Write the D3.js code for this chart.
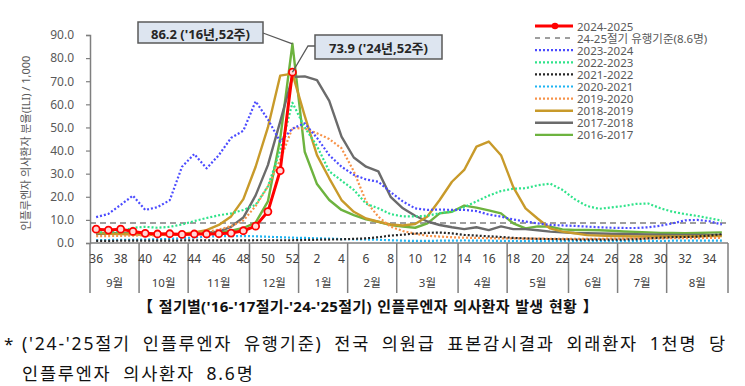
<!DOCTYPE html>
<html>
<head>
<meta charset="utf-8">
<script src="https://cdn.jsdelivr.net/npm/d3@7"></script>
<style>
  body { margin: 0; background: #fff; }
  svg text { font-family: 'Noto Sans', 'Noto Sans CJK KR', sans-serif; }
</style>
</head>
<body>
<div id="chart"></div>
<script>
// weeks run from week 36 to week 35 of the next year
var weeks = [36,37,38,39,40,41,42,43,44,45,46,47,48,49,50,51,52,
             1,2,3,4,5,6,7,8,9,10,11,12,13,14,15,16,17,18,19,20,21,22,23,24,25,26,27,28,29,30,31,32,33,34,35];
var weekTicks = [36,38,40,42,44,46,48,50,52,2,4,6,8,10,12,14,16,18,20,22,24,26,28,30,32,34];
var monthNames = ['9월','10월','11월','12월','1월','2월','3월','4월','5월','6월','7월','8월'];
var monthWeeks = [4,4,5,4,4,4,5,4,5,4,4,5];
var yTicks = [0,10,20,30,40,50,60,70,80,90];
var threshold = 8.6;

var s2425 = [6.0,5.6,6.0,5.0,4.2,3.9,4.0,3.7,3.9,3.9,4.0,4.3,5.3,7.3,13.6,31.3,73.9];
var s2324 = [11.2,12.6,16.5,20.5,14.3,15.5,18.5,33.0,38.5,32.3,38.0,45.5,48.6,61.3,53.5,43.8,49.5,
             51.8,45.5,38.0,33.0,29.5,27.5,26.5,22.0,18.0,15.0,14.3,14.5,14.3,14.3,13.8,12.3,11.4,10.2,9.3,8.5,7.8,7.6,7.4,7.1,6.8,6.6,6.5,6.5,6.8,7.5,8.5,9.8,10.0,9.4,8.0];
var s2223 = [4.5,4.8,5.0,6.6,7.0,6.6,7.0,8.0,9.5,10.8,12.0,12.8,14.3,16.5,24.5,40.0,60.7,
             50.0,42.0,31.0,27.0,23.0,17.0,15.0,12.5,11.5,11.5,11.8,12.9,13.6,15.5,18.0,20.5,22.5,23.5,23.7,25.0,25.7,23.0,19.0,16.0,14.8,15.4,16.0,16.9,17.1,15.0,13.5,12.5,11.7,10.7,9.7];
var s2122 = [0.9,0.9,1.0,1.0,1.0,1.0,1.0,1.1,1.1,1.1,1.1,1.1,1.1,1.2,1.2,1.2,1.2,
             1.3,1.4,1.5,1.6,1.8,2.0,2.5,3.2,3.6,4.1,4.4,4.5,4.2,3.5,3.2,2.9,2.6,2.2,2.0,1.8,1.7,1.6,1.5,1.5,1.5,1.5,1.5,1.6,2.0,2.3,2.5,2.6,2.8,3.2,3.8];
var s2021 = [1.3,1.3,1.4,1.4,1.5,1.6,1.8,2.0,2.4,2.7,3.0,3.0,3.0,2.9,2.7,2.5,2.3,
             2.2,2.0,1.9,1.7,1.6,1.5,1.4,1.2,1.0,0.9,0.9,1.0,1.0,1.1,1.0,1.0,0.9,0.9,0.8,0.8,0.8,0.8,0.8,0.8,0.8,0.8,0.8,0.8,0.9,0.9,1.0,1.0,1.0,1.0,1.0];
var s1920 = [3.0,3.0,3.1,3.2,3.3,3.3,3.5,3.7,4.0,4.8,5.8,7.3,9.7,16.0,24.5,36.0,49.8,
             49.5,47.5,45.0,41.0,31.0,18.0,11.4,7.1,5.2,4.0,3.1,2.8,2.5,2.3,2.2,2.1,2.0,2.0,1.9,1.9,1.8,1.8,1.8,1.8,1.8,1.9,1.9,2.0,2.0,2.0,2.1,2.1,2.1,2.2,2.2];
var s1819 = [4.3,4.0,3.9,3.8,3.6,3.5,3.6,4.0,4.6,5.6,7.8,11.5,19.0,33.0,50.0,72.4,73.3,
             55.0,38.0,28.0,18.6,13.5,10.6,9.2,8.0,7.6,8.2,11.5,18.6,26.5,31.6,41.7,43.9,38.0,24.2,15.0,10.5,6.3,4.9,4.2,3.4,3.2,3.0,2.9,2.8,2.8,2.8,2.8,2.8,2.9,3.0,3.0];
var s1718 = [4.0,4.0,4.0,3.9,3.8,3.7,3.7,3.8,4.0,4.3,5.0,7.0,11.0,20.6,33.7,52.5,71.8,
             72.1,70.5,61.5,46.0,37.0,33.0,31.0,20.0,15.0,11.8,9.3,7.8,6.8,6.0,6.8,5.6,7.2,6.0,6.0,5.5,4.9,4.6,4.3,4.2,4.1,4.0,3.9,3.8,3.7,3.6,3.5,3.5,3.5,3.5,3.5];
var s1617 = [4.3,4.2,4.2,4.1,4.0,3.9,3.8,3.8,3.9,4.2,4.6,5.3,6.5,8.8,18.0,45.0,86.2,
             39.5,25.5,18.6,14.3,12.1,10.2,9.2,7.8,7.1,6.6,8.5,12.8,13.5,16.2,15.3,14.1,12.8,8.5,6.3,7.2,7.1,5.9,5.6,5.6,5.5,5.3,5.0,4.8,4.6,4.4,4.3,4.2,4.3,4.5,4.6];

var seriesNames = ['2024-2025','24-25절기 유행기준(8.6명)','2023-2024','2022-2023','2021-2022',
                   '2020-2021','2019-2020','2018-2019','2017-2018','2016-2017'];

var width = 745, height = 386;
var svg = d3.select('#chart').append('svg').attr('width', width).attr('height', height);

var xb = d3.scaleBand().domain(weeks).range([90, 728]);
var x = function(w) { return xb(w) + xb.bandwidth() / 2; };
var y = d3.scaleLinear().domain([0, 90]).range([243, 35]);

// styles for each series, in legend order
var styles = [
  {data: s2425, color: '#ff0000', w: 3,   dash: null},
  {data: null,  color: '#7f7f7f', w: 1.5, dash: '6,4'},
  {data: s2324, color: '#4b4bff', w: 2.2, dash: '2,2'},
  {data: s2223, color: '#2fe38a', w: 2.2, dash: '2,2'},
  {data: s2122, color: '#262626', w: 2.2, dash: '2,2'},
  {data: s2021, color: '#1fb4f2', w: 2.2, dash: '2,2'},
  {data: s1920, color: '#f7934a', w: 2.2, dash: '2,2'},
  {data: s1819, color: '#c89a2a', w: 2.4, dash: null},
  {data: s1718, color: '#6b6b6b', w: 2.4, dash: null},
  {data: s1617, color: '#6db33f', w: 2.4, dash: null}
];

// stretch a text line to a width by widening the word gaps, returns the gap used
var fitWords = function(sel, target) {
  var node = sel.node();
  var natural = node.getComputedTextLength();
  var gaps = (node.textContent.match(/ /g) || []).length;
  var ws = gaps > 0 ? (target - natural) / gaps : 0;
  sel.style('word-spacing', ws + 'px');
  return ws;
};

// y axis
var yAxis = d3.axisLeft(y).tickValues(yTicks).tickSize(4).tickFormat(d3.format('.1f'));
var gy = svg.append('g').attr('transform', 'translate(90,0)').call(yAxis);
gy.select('.domain').attr('stroke', '#7f7f7f').attr('stroke-width', 1.5);
gy.selectAll('.tick line').attr('stroke', '#7f7f7f').attr('stroke-width', 1.2);
gy.selectAll('.tick text').attr('fill', '#595959').attr('font-size', 12).attr('x', -16);

svg.append('text')
  .attr('transform', 'translate(25,143) rotate(-90)')
  .attr('text-anchor', 'middle').attr('dominant-baseline', 'central')
  .attr('font-size', 11).attr('fill', '#595959')
  .text('인플루엔자 의사환자 분율(ILI) / 1,000');

// x axis line + month separators
svg.append('line').attr('x1', 90).attr('x2', 728).attr('y1', 243).attr('y2', 243)
  .attr('stroke', '#7f7f7f').attr('stroke-width', 1.5);

var monthStarts = [];
var acc = 0;
monthWeeks.forEach(function(n) { monthStarts.push(acc); acc += n; });
var edges = monthStarts.map(function(i) { return xb(weeks[i]); }).concat([728]);
svg.append('g').selectAll('line').data(edges).enter().append('line')
  .attr('x1', function(d) { return d; }).attr('x2', function(d) { return d; })
  .attr('y1', 243).attr('y2', 293)
  .attr('stroke', '#7f7f7f').attr('stroke-width', 1.5);

svg.append('g').selectAll('text').data(weekTicks).enter().append('text')
  .attr('x', function(d) { return x(d); }).attr('y', 258)
  .attr('text-anchor', 'middle').attr('dominant-baseline', 'central')
  .attr('font-size', 12).attr('fill', '#404040')
  .text(function(d) { return d; });

svg.append('g').selectAll('text').data(monthNames).enter().append('text')
  .attr('x', function(d, i) { return (edges[i] + edges[i + 1]) / 2; }).attr('y', 282)
  .attr('text-anchor', 'middle').attr('dominant-baseline', 'central')
  .attr('font-size', 11.5).attr('fill', '#404040')
  .text(function(d) { return d; });

// lines
var line = d3.line()
  .defined(function(d) { return d != null; })
  .x(function(d, i) { return x(weeks[i]); })
  .y(function(d) { return y(d); });

var plot = svg.append('g');
// threshold
plot.append('line').attr('x1', 90).attr('x2', 728)
  .attr('y1', y(threshold)).attr('y2', y(threshold))
  .attr('stroke', styles[1].color).attr('stroke-width', styles[1].w).attr('stroke-dasharray', styles[1].dash);

// oldest season first, current season on top
for (var k = styles.length - 1; k >= 0; k--) {
  var s = styles[k];
  if (!s.data) continue;
  plot.append('path').datum(s.data)
    .attr('d', line)
    .attr('fill', 'none')
    .attr('stroke', s.color)
    .attr('stroke-width', s.w)
    .attr('stroke-dasharray', s.dash)
    .attr('stroke-linejoin', 'round');
}
plot.selectAll('circle.mk').data(s2425).enter().append('circle')
  .attr('class', 'mk')
  .attr('cx', function(d, i) { return x(weeks[i]); })
  .attr('cy', function(d) { return y(d); })
  .attr('r', 3.5)
  .attr('fill', '#ffd6d6').attr('stroke', '#ff0000').attr('stroke-width', 1.8);

// legend
var lg = svg.append('g');
seriesNames.forEach(function(name, i) {
  var s = styles[i];
  var ly = 26 + i * 12.1;
  lg.append('line').attr('x1', 535).attr('x2', 573).attr('y1', ly).attr('y2', ly)
    .attr('stroke', s.color).attr('stroke-width', i === 1 ? 1.5 : s.w)
    .attr('stroke-dasharray', i === 1 ? '5,5' : s.dash);
  if (i === 0) {
    lg.append('circle').attr('cx', 555).attr('cy', ly).attr('r', 3.3).attr('fill', '#ff0000');
  }
  lg.append('text').attr('x', 577).attr('y', ly).attr('dominant-baseline', 'central')
    .attr('font-size', 11.5).attr('fill', '#595959').text(name);
});

// peak annotations
var notes = [
  {label: "86.2 ('16년,52주)", week: 52, value: 86.2, box: [138, 22, 125, 21], leader: [[263, 33]]},
  {label: "73.9 ('24년,52주)", week: 52, value: 73.9, box: [315, 35, 127, 24], leader: [[315, 46], [308, 46]]}
];
notes.forEach(function(n) {
  var pts = n.leader.concat([[x(n.week), y(n.value)]]);
  svg.append('path').attr('d', d3.line()(pts))
    .attr('fill', 'none').attr('stroke', '#595959').attr('stroke-width', 1.3);
  svg.append('rect').attr('x', n.box[0]).attr('y', n.box[1]).attr('width', n.box[2]).attr('height', n.box[3])
    .attr('fill', '#dde5f0').attr('stroke', '#595959').attr('stroke-width', 1.5);
  svg.append('text').attr('x', n.box[0] + n.box[2] / 2).attr('y', n.box[1] + n.box[3] / 2 + 1)
    .attr('text-anchor', 'middle').attr('dominant-baseline', 'central')
    .attr('font-size', 13).attr('font-weight', 'bold').attr('fill', '#262626')
    .text(n.label);
});

// caption text under the chart
var t1 = svg.append('text').attr('x', 138).attr('y', 306).attr('dominant-baseline', 'central')
  .attr('font-size', 15).attr('font-weight', 'bold').attr('fill', '#111')
  .style('letter-spacing', '0.3px')
  .text("【 절기별('16-'17절기-'24-'25절기) 인플루엔자 의사환자 발생 현황 】");
fitWords(t1, 460);
svg.append('text').attr('x', 4).attr('y', 343).attr('dominant-baseline', 'central')
  .attr('font-size', 17).attr('fill', '#111').text('*');
var t2 = svg.append('text').attr('x', 22).attr('y', 343).attr('dominant-baseline', 'central')
  .attr('font-size', 17.5).attr('fill', '#111')
  .style('letter-spacing', '1.8px')
  .text("('24-'25절기 인플루엔자 유행기준) 전국 의원급 표본감시결과 외래환자 1천명 당");
var gap = fitWords(t2, 705);
svg.append('text').attr('x', 22).attr('y', 373).attr('dominant-baseline', 'central')
  .attr('font-size', 17.5).attr('fill', '#111')
  .style('letter-spacing', '1.8px').style('word-spacing', gap + 'px')
  .text('인플루엔자 의사환자 8.6명');
</script>
</body>
</html>
